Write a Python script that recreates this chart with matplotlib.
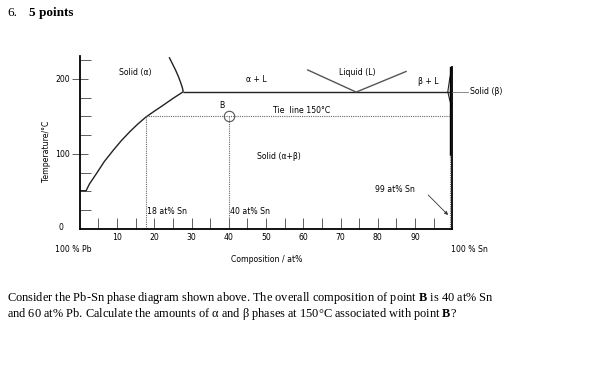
import numpy as np
import matplotlib
matplotlib.use("Agg")
import matplotlib.pyplot as plt

plt.rcParams['font.family'] = ['DejaVu Sans']
plt.rcParams['mathtext.fontset'] = 'custom'
plt.rcParams['mathtext.rm'] = 'Liberation Serif'
plt.rcParams['mathtext.bf'] = 'Liberation Serif:bold'

# phase boundaries (composition at% Sn, temperature C)
solvus_a_x = [0, 1.7, 2.6, 4.5, 6.6, 9.0, 11.2, 13.5, 15.6, 17.7, 20.0, 22.4, 25.0, 27.8]
solvus_a_t = [51, 51, 60, 74, 90, 105, 118, 130, 140, 149, 157, 165, 174, 183]
liq_a_x = [24.0, 24.9, 25.7, 26.5, 27.1, 27.5, 27.8]
liq_a_t = [229, 220, 212, 203, 195, 189, 183]
eut_x = [27.8, 99.6]
eut_t = [183, 183]
liq_v_x = [61.2, 74.2, 87.6]
liq_v_t = [212, 182.5, 210]
lens_x = [99.9, 99.3, 98.8, 99.3, 99.9]
lens_t = [215, 200, 183, 172, 163]
beta_x = 99.4
beta_top, beta_mid = 216, 98
tie_t = 150
alpha_c, b_c, beta_c = 17.7, 40, 99.4

xticks = [10, 20, 30, 40, 50, 60, 70, 80, 90]
xminor = [5, 15, 25, 35, 45, 55, 65, 75, 85, 95]
yticks = [100, 200]
yminor = [25, 50, 75, 125, 150, 175, 225]

fs = 5.6
fig = plt.figure(figsize=(5.93, 3.81), dpi=100)
ax = fig.add_axes([0.1345, 0.399, 0.6282, 0.4528])
ax.set_xlim(0, 100)
ax.set_ylim(0, 230)

for s in ['top', 'right']:
    ax.spines[s].set_visible(False)
for s in ['left', 'bottom']:
    ax.spines[s].set_linewidth(1.3)

ax.set_xticks(xticks)
ax.set_xticks(xminor, minor=True)
ax.set_yticks(yticks)
ax.set_yticks(yminor, minor=True)
ax.tick_params(axis='x', which='both', direction='in', length=8, width=0.6,
               color='#444444', labelsize=fs, pad=3)
ax.tick_params(axis='y', which='major', direction='inout', length=12, width=0.6,
               color='#444444', labelsize=fs, pad=1)
ax.tick_params(axis='y', which='minor', direction='in', length=8, width=0.6,
               color='#444444')

k = dict(color='#222222', lw=1.0, solid_capstyle='butt')
dot = dict(color='#666666', lw=0.8, ls=(0, (1, 1)))
ax.plot(solvus_a_x, solvus_a_t, **k)
ax.plot(liq_a_x, liq_a_t, **k)
ax.plot(eut_x, eut_t, **k)
ax.plot(liq_v_x, liq_v_t, color='#555555', lw=1.0)
ax.plot(lens_x, lens_t, color='#222222', lw=0.8)
ax.plot([100, 100], [0, beta_top], color='black', lw=1.3, clip_on=False)
ax.plot([beta_x, beta_x], [beta_mid, beta_top], color='black', lw=1.0)
ax.plot([beta_x, beta_x], [0, beta_mid], **dot)
ax.plot([alpha_c, beta_c], [tie_t, tie_t], **dot)
ax.plot([alpha_c, alpha_c], [0, tie_t], **dot)
ax.plot([b_c, b_c], [0, tie_t], **dot)
ax.plot([b_c], [tie_t], marker='o', ms=7.5, mfc='none', mec='#555555', mew=0.8)

ax.plot([100, 104.3], [183, 183], color='#777777', lw=0.6, clip_on=False)
ax.annotate('', xy=(99.4, 16), xytext=(93, 48),
            arrowprops=dict(arrowstyle='-|>', color='#333333', lw=0.6,
                            mutation_scale=5))

ax.text(14.8, 208, 'Solid (α)', fontsize=fs, ha='center', va='center')
ax.text(47.5, 199, 'α + L', fontsize=fs, ha='center', va='center')
ax.text(74.6, 208, 'Liquid (L)', fontsize=fs, ha='center', va='center')
ax.text(93.5, 196, 'β + L', fontsize=fs, ha='center', va='center')
ax.text(104.8, 183, 'Solid (β)', fontsize=fs, ha='left', va='center', clip_on=False)
ax.text(38.2, 164, 'B', fontsize=fs, ha='center', va='center')
ax.text(52, 158, 'Tie  line 150°C', fontsize=fs, ha='left', va='center')
ax.text(47.6, 96, 'Solid (α+β)', fontsize=fs, ha='left', va='center')
ax.text(84.6, 52, '99 at% Sn', fontsize=fs, ha='center', va='center')
ax.text(18.0, 23, '18 at% Sn', fontsize=fs, ha='left', va='center')
ax.text(40.3, 23, '40 at% Sn', fontsize=fs, ha='left', va='center')
ax.text(-5, 2, '0', fontsize=fs, ha='center', va='center', clip_on=False)
ax.text(-1.8, -28, '100 % Pb', fontsize=fs, ha='center', va='center', clip_on=False)
ax.text(104.5, -28, '100 % Sn', fontsize=fs, ha='center', va='center', clip_on=False)
ax.text(50.3, -41, 'Composition / at%', fontsize=fs, ha='center', va='center', clip_on=False)
ax.text(-8.8, 104, 'Temperature/°C', fontsize=fs, rotation=90, ha='center',
        va='center', clip_on=False)

fig.text(7 / 593, 1 - 13 / 381, '6.', family='Liberation Serif', fontsize=9.5,
         va='center')
fig.text(29 / 593, 1 - 13 / 381, '5 points', family='Liberation Serif',
         fontsize=9.5, weight='bold', va='center')
fig.text(7 / 593, 1 - 298 / 381,
         r'Consider the Pb-Sn phase diagram shown above. The overall composition of point $\mathbf{B}$ is 40 at% Sn',
         family='Liberation Serif', fontsize=8.95, va='center')
fig.text(7 / 593, 1 - 314 / 381,
         r'and 60 at% Pb. Calculate the amounts of α and β phases at 150°C associated with point $\mathbf{B}$?',
         family='Liberation Serif', fontsize=8.95, va='center')

fig.savefig('out.png', dpi=100)
